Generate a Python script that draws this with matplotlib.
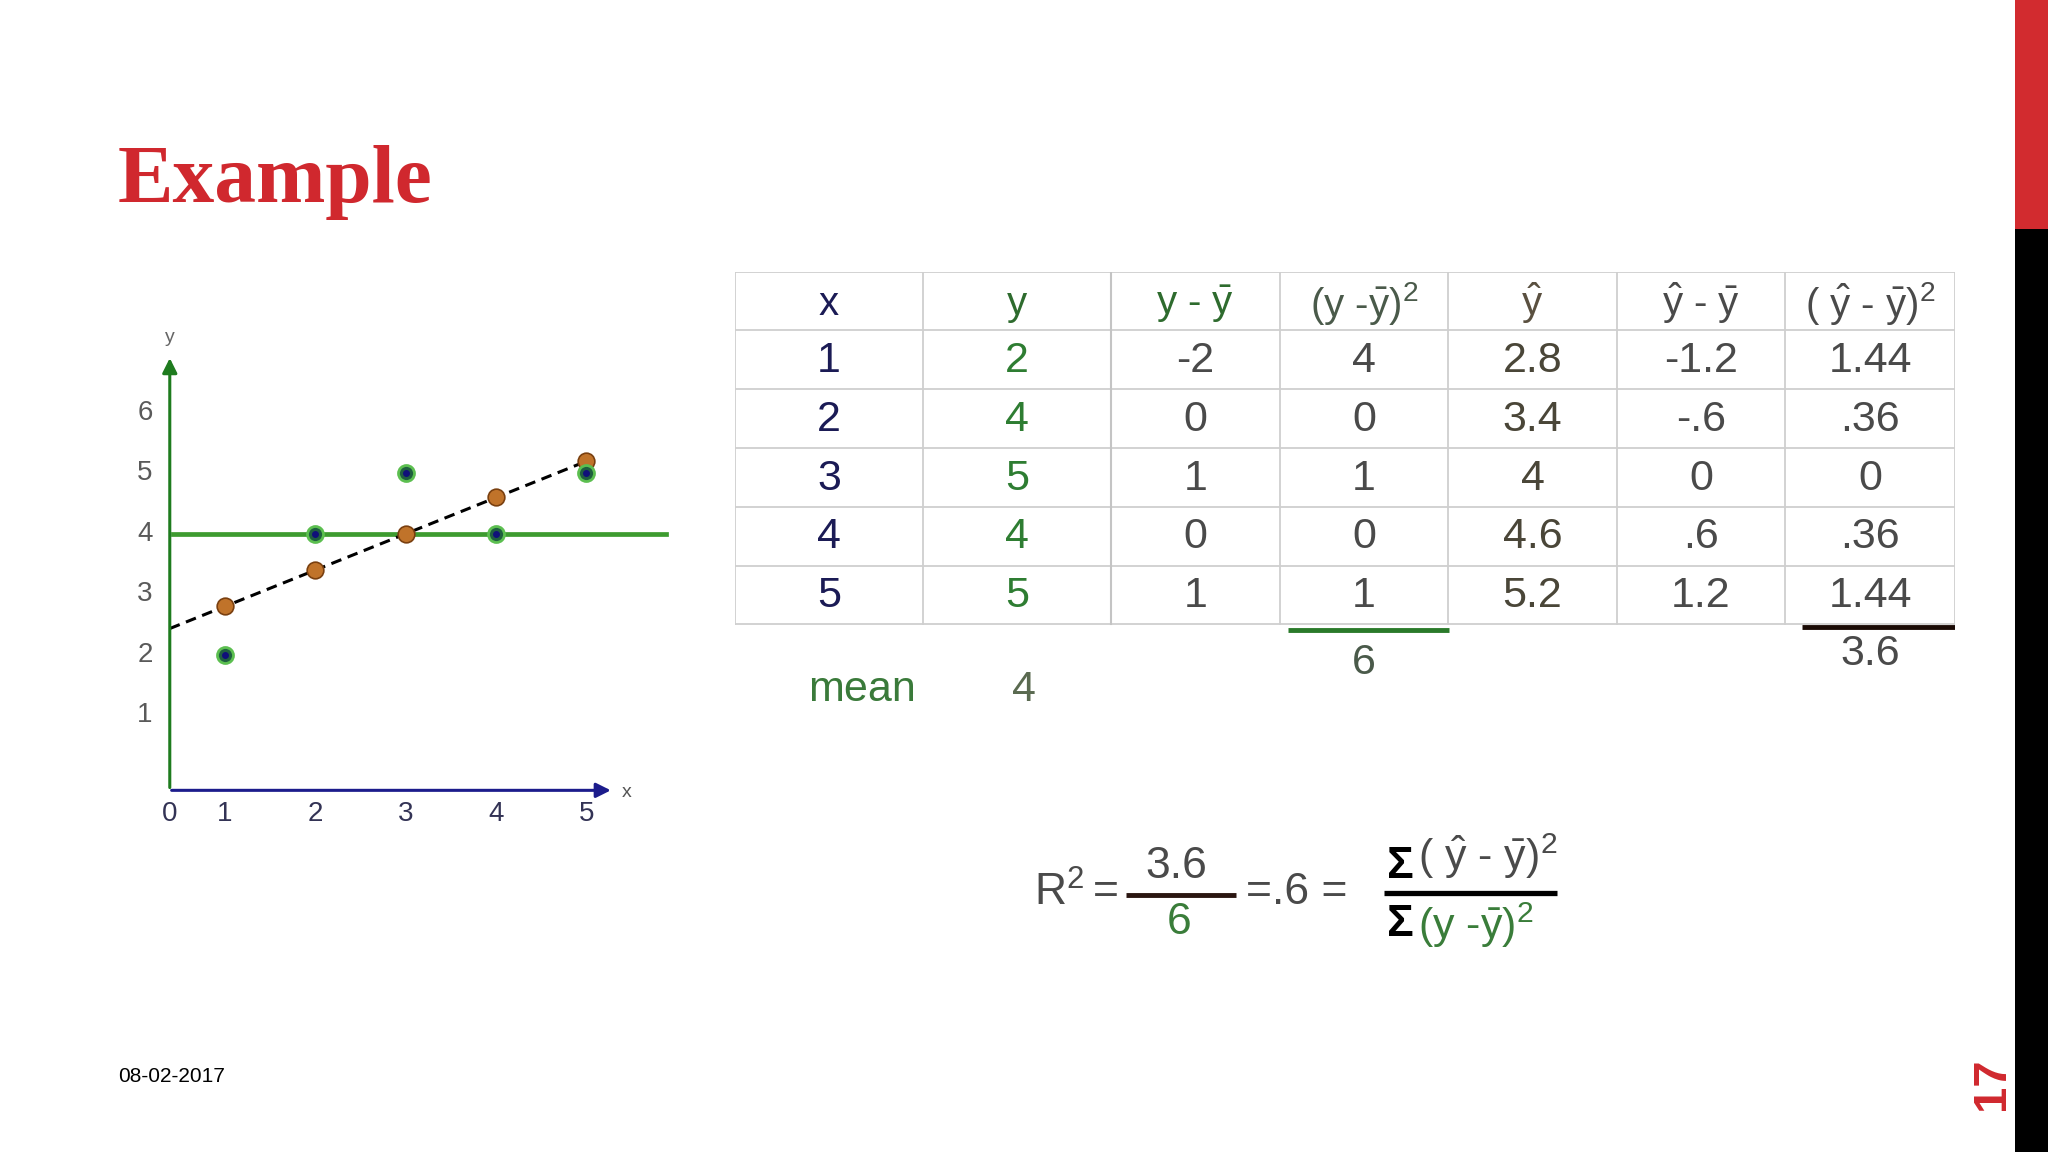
import matplotlib.pyplot as plt
from matplotlib.patches import Rectangle

plt.rcParams['font.family'] = ['Liberation Sans', 'DejaVu Sans']
plt.rcParams['mathtext.fontset'] = 'custom'
plt.rcParams['mathtext.rm'] = 'Liberation Sans'
plt.rcParams['mathtext.it'] = 'Liberation Sans'
plt.rcParams['mathtext.bf'] = 'Liberation Sans:bold'

# data
x_vals = [1, 2, 3, 4, 5]
y_vals = [2, 4, 5, 4, 5]
y_hat = [2.8, 3.4, 4, 4.6, 5.2]
y_mean = 4
line_a = 2.2   # intercept of fitted line
line_b = 0.6   # slope

headers = ["x", "y", r"y - $\bar{y}$", r"(y -$\bar{y}$)$^2$", r"$\hat{y}$",
           r"$\hat{y}$ - $\bar{y}$", r"( $\hat{y}$ - $\bar{y}$)$^2$"]
x_labels = ["1", "2", "3", "4", "5"]
y_labels = ["2", "4", "5", "4", "5"]
dev_labels = ["-2", "0", "1", "0", "1"]
dev_sq_labels = ["4", "0", "1", "0", "1"]
yhat_labels = ["2.8", "3.4", "4", "4.6", "5.2"]
yhat_dev_labels = ["-1.2", "-.6", "0", ".6", "1.2"]
yhat_dev_sq_labels = ["1.44", ".36", "0", ".36", "1.44"]
sum_dev_sq = "6"
sum_yhat_dev_sq = "3.6"
mean_label = "4"

W, H = 2048, 1152
fig = plt.figure(figsize=(20.48, 11.52), dpi=100)
fig.patch.set_facecolor('white')

# background axes in pixel units for the slide decorations
bg = fig.add_axes([0, 0, 1, 1])
bg.set_xlim(0, W)
bg.set_ylim(H, 0)
bg.axis('off')

red = '#d0282e'
bg.add_patch(Rectangle((2015, 0), 33, 229, color='#d22b2f', lw=0))
bg.add_patch(Rectangle((2015, 229), 33, H - 229, color='black', lw=0))
bg.text(118, 202, "Example", fontsize=60, fontweight='bold', color=red,
        family='Liberation Serif', ha='left', va='baseline')
bg.text(118, 1076, "08-02-2017", fontsize=15, color='black', ha='left', va='center')
bg.text(1992, 1084, "17", fontsize=34, fontweight='bold', color=red,
        rotation=90, ha='center', va='center')

# R^2 formula
fs = 32
gray = '#4a4a4a'
green_txt = '#3a7d3a'
bg.text(1034, 893, "R$^2$", fontsize=fs, color=gray, ha='left', va='center')
bg.text(1106, 893, "=", fontsize=fs, color=gray, ha='center', va='center')
bg.plot([1126, 1236], [895, 895], color='#2a1510', lw=3.5, solid_capstyle='butt')
bg.text(1176, 866, sum_yhat_dev_sq, fontsize=fs, color=gray, ha='center', va='center')
bg.text(1179, 923, sum_dev_sq, fontsize=fs, color=green_txt, ha='center', va='center')
bg.text(1246, 893, "=.6 =", fontsize=fs, color=gray, ha='left', va='center')
bg.plot([1384, 1557], [893, 893], color='black', lw=3.8, solid_capstyle='butt')
bg.text(1386, 866, r"$\mathbf{\Sigma}$", fontsize=fs, color='black', ha='left', va='center')
bg.text(1418, 856, r"( $\hat{y}$ - $\bar{y}$)$^2$", fontsize=fs - 1, color=gray,
        ha='left', va='center')
bg.text(1386, 925, r"$\mathbf{\Sigma}$", fontsize=fs, color='black', ha='left', va='center')
bg.text(1418, 925, r"(y -$\bar{y}$)$^2$", fontsize=fs - 1, color=green_txt,
        ha='left', va='center')

# scatter plot: axes box 100..700 px wide, 300..850 px tall
ax = fig.add_axes([100 / W, 1 - 850 / H, 600 / W, 550 / H])
ax.set_xlim(-0.382, 6.256)
ax.set_ylim(-1.226, 7.864)
ax.axis('off')
x0, y0 = 0.39, -0.24

ax.plot([0.43, 5.88], [y_mean, y_mean], color='#3d9b2f', lw=3.4, zorder=2)
ax.plot([x0, x_vals[-1]], [line_a + line_b * x0, line_a + line_b * x_vals[-1]],
        color='black', lw=2.2, dashes=(3.5, 2.2), zorder=3)
ax.plot(x_vals, y_hat, 'o', ms=12, mfc='#c0732a', mec='#7a4010', mew=1.2, zorder=4)
ax.plot(x_vals, y_vals, 'o', ms=11.5, mfc='#1f5f3f', mec='#5cbf50', mew=2, zorder=5)
ax.plot(x_vals, y_vals, 'o', ms=4, mfc='#10107a', mec='#10107a', zorder=6)

ax.annotate("", xy=(x0, 6.95), xytext=(x0, y0),
            arrowprops=dict(arrowstyle='-|>', color='#1e7b1e', lw=2.2, mutation_scale=22))
ax.annotate("", xy=(5.3, y0), xytext=(x0 - 0.01, y0),
            arrowprops=dict(arrowstyle='-|>', color='#1c1c8c', lw=2.2, mutation_scale=22))
ax.text(x0, 7.25, "y", fontsize=14, color='#666666', ha='center', va='center')
ax.text(5.45, -0.28, "x", fontsize=14, color='#555555', ha='center', va='center')
for v in range(1, 7):
    ax.text(0.115, v, str(v), fontsize=20, color='#5a5a5a', ha='center', va='center')
ax.text(x0, -0.63, "0", fontsize=20, color='#333355', ha='center', va='center')
for v in x_vals:
    ax.text(v, -0.63, str(v), fontsize=20, color='#333355', ha='center', va='center')

# table
col_w = [144, 144, 129, 129, 129, 129, 130]
edges = [0]
for w in col_w:
    edges.append(edges[-1] + w)
centers = [(edges[i] + edges[i + 1]) / 2 for i in range(len(col_w))]
n_rows = 8
tb = fig.add_axes([735 / W, 1 - (271.6 + n_rows * 58.8) / H, 1220 / W, n_rows * 58.8 / H])
tb.set_xlim(0, edges[-1])
tb.set_ylim(n_rows, 0)
tb.axis('off')

grid_c = '#cfcfcf'
for r in range(7):
    tb.plot([0, edges[-1]], [r, r], color=grid_c, lw=1.3)
for i, e in enumerate(edges):
    tb.plot([e, e], [0, 6], color='#c4c4c4' if i == 2 else grid_c, lw=1.5 if i == 2 else 1.3)

tfs = 31
head_colors = ['#1b1b55', '#2e6b2e', '#2e6b2e', '#4a5a4a', '#5a5040', gray, gray]
for c, (h, col) in enumerate(zip(headers, head_colors)):
    tb.text(centers[c], 0.55, h, fontsize=29, color=col, ha='center', va='center')

columns = [x_labels, y_labels, dev_labels, dev_sq_labels, yhat_labels,
           yhat_dev_labels, yhat_dev_sq_labels]
col_colors = ['#1b1b55', '#2e7d32', gray, gray, '#4a4638', gray, gray]
for c, (vals, col) in enumerate(zip(columns, col_colors)):
    for r, v in enumerate(vals):
        tb.text(centers[c], r + 1.52, v, fontsize=tfs, color=col, ha='center', va='center')

tb.plot([edges[3] + 6, edges[4] + 1], [6.09, 6.09], color='#2a7a2a', lw=3.5,
        solid_capstyle='butt')
tb.text(centers[3], 6.66, sum_dev_sq, fontsize=tfs, color='#4a5a4a', ha='center', va='center')
tb.plot([edges[6] + 13, edges[7] + 6], [6.04, 6.04], color='#1a0a05', lw=3.5,
        solid_capstyle='butt')
tb.text(centers[6], 6.5, sum_yhat_dev_sq, fontsize=tfs, color=gray, ha='center', va='center')
tb.text(centers[0] + 25, 7.12, "mean", fontsize=tfs, color='#3a7a3a', ha='center', va='center')
tb.text(centers[1] + 5, 7.12, mean_label, fontsize=tfs, color='#5a6a50', ha='center', va='center')

fig.savefig("out.png", dpi=100, facecolor='white')
